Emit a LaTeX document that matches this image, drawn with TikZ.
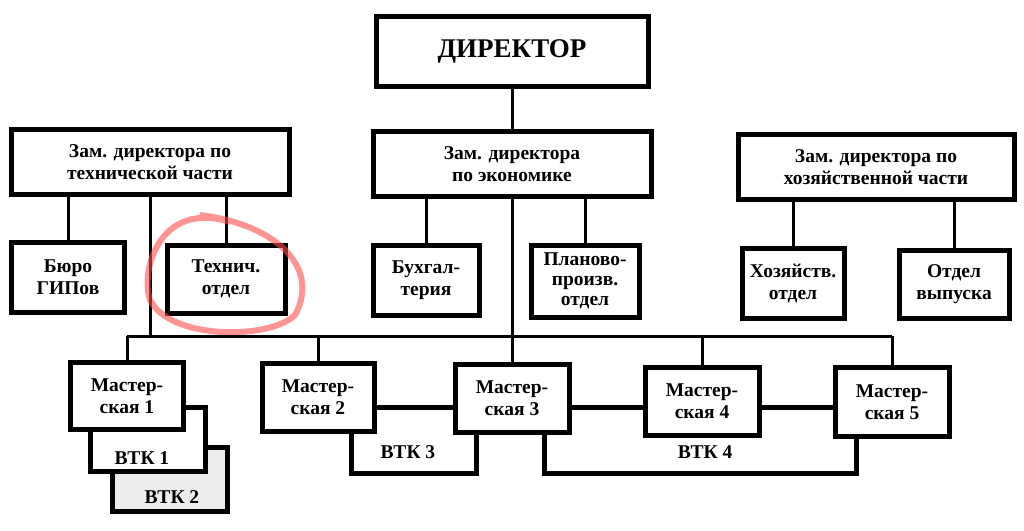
\documentclass[tikz,border=0pt]{standalone}
\usepackage{fontspec}
\setmainfont{Liberation Serif}
\usetikzlibrary{calc}
\tikzset{
  unit/.style={draw, line width=5pt, fill=white, align=center, font=\bfseries\fontsize{19.5}{22}\selectfont, inner sep=0pt},
  link/.style={line width=3pt}
}
\begin{document}
\begin{tikzpicture}[x=1pt,y=-1pt]
	\useasboundingbox (0,0) rectangle (1024,530);

	%quality control groups (behind the workshops)
	\node[unit, minimum width=115, minimum height=64, fill=gray!15] (vtk2) at (170,479) {};
	\node[font=\bfseries\fontsize{19.5}{22}\selectfont] at (172,497) {ВТК 2};
	\node[unit, minimum width=115, minimum height=64] (vtk1) at (148,439) {};
	\node[font=\bfseries\fontsize{19.5}{22}\selectfont] at (142,458) {ВТК 1};
	\node[unit, minimum width=125, minimum height=66] (vtk3) at (414,440) {};
	\node[font=\bfseries\fontsize{19.5}{22}\selectfont] at (408,452) {ВТК 3};
	\node[unit, minimum width=312, minimum height=66] (vtk4) at (700,440) {};
	\node[font=\bfseries\fontsize{19.5}{22}\selectfont] at (705,452) {ВТК 4};

	%top
	\node[unit, minimum width=272, minimum height=70, font=\bfseries\fontsize{27}{30}\selectfont] (dir) at (512,51) {ДИРЕКТОР};
	\node[unit, minimum width=278, minimum height=65] (zt) at (150,162) {Зам. директора по\\технической части};
	\node[unit, minimum width=278, minimum height=65] (ze) at (512,164) {Зам. директора\\по экономике};
	\node[unit, minimum width=276, minimum height=65] (zh) at (876,167) {Зам. директора по\\хозяйственной части};

	%departments
	\node[unit, minimum width=113, minimum height=70] (buro) at (68,277) {Бюро\\ГИПов};
	\node[unit, minimum width=118, minimum height=68] (tech) at (226,279) {Технич.\\отдел};
	\node[unit, minimum width=106, minimum height=70] (buh) at (426,280) {Бухгал-\\терия};
	\node[unit, minimum width=108, minimum height=72, font=\bfseries\fontsize{19.5}{20}\selectfont] (plan) at (585,281) {Планово-\\произв.\\отдел};
	\node[unit, minimum width=102, minimum height=70] (hoz) at (793,283) {Хозяйств.\\отдел};
	\node[unit, minimum width=110, minimum height=68] (vyp) at (954,284) {Отдел\\выпуска};

	%workshops
	\node[unit, minimum width=113, minimum height=67] (m1) at (127,396) {Мастер-\\ская 1};
	\node[unit, minimum width=112, minimum height=68] (m2) at (318,397) {Мастер-\\ская 2};
	\node[unit, minimum width=114, minimum height=68] (m3) at (512,398) {Мастер-\\ская 3};
	\node[unit, minimum width=114, minimum height=68] (m4) at (702,401) {Мастер-\\ская 4};
	\node[unit, minimum width=114, minimum height=69] (m5) at (892,402) {Мастер-\\ская 5};

	%connectors
	\coordinate (bus) at (0,336);
	\draw[link] (dir) -- (ze);
	\draw[link] (ze) -- (m3);
	\draw[link] (buro.north |- zt.south) -- (buro);
	\draw[link] (tech.north |- zt.south) -- (tech);
	\draw[link] (zt.south) -- (zt.south |- bus);
	\foreach \d/\z in {buh/ze,plan/ze,hoz/zh,vyp/zh}
		\draw[link] (\d.north |- \z.south) -- (\d);
	\draw[link] (m1.north |- bus) -- (m5.north |- bus);
	\foreach \m in {m1,m2,m4,m5}
		\draw[link] (\m.north |- bus) -- (\m.north);

	%highlight
	\draw[red!70, line width=6pt, opacity=0.6]
		(230,222) .. controls (160,200) and (140,270) .. (150,300)
		.. controls (170,340) and (270,340) .. (295,315)
		.. controls (320,270) and (280,225) .. (200,215);
\end{tikzpicture}
\end{document}
